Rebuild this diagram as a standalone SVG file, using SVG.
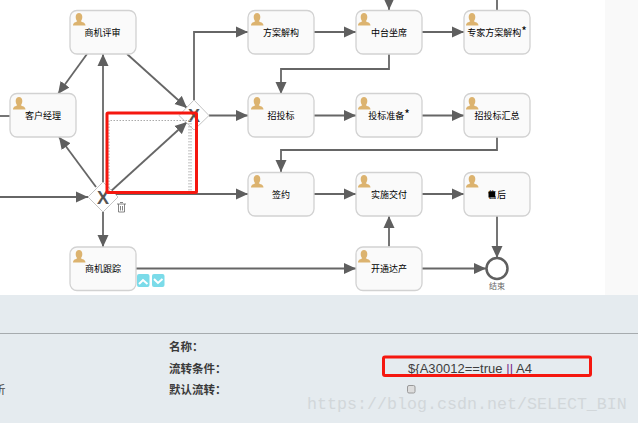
<svg xmlns="http://www.w3.org/2000/svg" width="638" height="423" viewBox="0 0 638 423">
<style>
.n{fill:#fafafa;stroke:#d2d2d2;stroke-width:1.3}
.t{font:9px "Noto Sans CJK SC","Noto Sans",sans-serif;fill:#000;text-anchor:middle}
.s{font-size:12px}
.c{fill:none;stroke:#666;stroke-width:1.8}
.a{marker-end:url(#arr)}
.g{fill:#fff;stroke:#c4c4c4;stroke-width:1}
.x{font:bold 18px "Liberation Sans",sans-serif;fill:#555;text-anchor:middle}
.l{font:bold 11.5px "Noto Sans CJK SC",sans-serif;fill:#3a3a3a}
.d{fill:none;stroke:#aaa;stroke-width:1;stroke-dasharray:1.5 1.5}
.r{fill:none;stroke:#f5170f;stroke-width:3}
</style>
<defs>
<marker id="arr" markerUnits="userSpaceOnUse" markerWidth="13" markerHeight="12" refX="12" refY="6" orient="auto"><path d="M0 0.500L12 6L0 11.500z" fill="#5f5f5f"/></marker>
<g id="u"><path d="M0 12.500C0 9.500 3 9.300 4.200 8.300C3 6.800 2.700 5.500 2.700 3.800C2.700 1.500 4.200 0 6 0C7.800 0 9.300 1.500 9.300 3.800C9.300 5.500 9 6.800 7.800 8.300C9 9.300 12.500 9.500 12.500 12.500z" fill="#dcb36f"/></g>
</defs>
<rect width="638" height="423" fill="#fff"/>
<rect x="605" width="33" height="295" fill="#f9f9f9"/>
<rect y="295" width="638" height="128" fill="#e5ebef"/>
<path d="M0 333.500H638" stroke="#a6abae" stroke-width="1"/>
<g id="connectors">
<path class="c a" d="M0 197H88"/>
<path class="c" d="M0 116H10"/>
<path class="c a" d="M103 182V54"/>
<path class="c a" d="M87 54L58 94"/>
<path class="c a" d="M96 187L59 137"/>
<path class="c a" d="M127 54L187 108"/>
<path class="c a" d="M110 192L187 122"/>
<path class="c a" d="M194 100V32H248"/>
<path class="c a" d="M209 115.500H248"/>
<path class="c a" d="M110 194H248"/>
<path class="c a" d="M314 32H356"/>
<path class="c a" d="M422 32H464"/>
<path class="c a" d="M389 -2V10"/>
<path class="c" d="M497 0V10"/>
<path class="c a" d="M389 54V69H281V94"/>
<path class="c a" d="M314 115.500H356"/>
<path class="c a" d="M422 115.500H464"/>
<path class="c a" d="M497 137V150H281V172"/>
<path class="c a" d="M314 194H356"/>
<path class="c a" d="M422 194H464"/>
<path class="c a" d="M497 216V258"/>
<path class="c a" d="M136 268.500H356"/>
<path class="c a" d="M389 246.500V216"/>
<path class="c a" d="M422 268.500H486"/>
<path class="c a" d="M103 212V247"/>
</g>
<g id="n1"><rect class="n" x="70" y="10.500" width="66" height="43.500" rx="7"/><use href="#u" x="73" y="13"/><text class="t" x="102.500" y="36">商机评审</text></g>
<g id="n2"><rect class="n" x="10" y="93.500" width="66" height="43.500" rx="7"/><use href="#u" x="13" y="97"/><text class="t" x="43" y="119">客户经理</text></g>
<g id="n3"><rect class="n" x="248" y="10.500" width="66" height="43.500" rx="7"/><use href="#u" x="251" y="13"/><text class="t" x="281" y="36">方案解构</text></g>
<g id="n4"><rect class="n" x="356" y="10.500" width="66" height="43.500" rx="7"/><use href="#u" x="358" y="13"/><text class="t" x="389" y="36">中台坐席</text></g>
<g id="n5"><rect class="n" x="464" y="10.500" width="66" height="43.500" rx="7"/><use href="#u" x="466" y="13"/><text class="t" x="497" y="36">专家方案解构<tspan class="s">*</tspan></text></g>
<g id="n6"><rect class="n" x="248" y="93.500" width="66" height="43.500" rx="7"/><use href="#u" x="251" y="97"/><text class="t" x="281" y="119">招投标</text></g>
<g id="n7"><rect class="n" x="356" y="93.500" width="66" height="43.500" rx="7"/><use href="#u" x="358" y="97"/><text class="t" x="389" y="119">投标准备<tspan class="s">*</tspan></text></g>
<g id="n8"><rect class="n" x="464" y="93.500" width="66" height="43.500" rx="7"/><use href="#u" x="466" y="97"/><text class="t" x="497" y="119">招投标汇总</text></g>
<g id="n9"><rect class="n" x="248" y="172.500" width="66" height="43.500" rx="7"/><use href="#u" x="251" y="175"/><text class="t" x="281" y="198">签约</text></g>
<g id="n10"><rect class="n" x="356" y="172.500" width="66" height="43.500" rx="7"/><use href="#u" x="358" y="175"/><text class="t" x="389" y="198">实施交付</text></g>
<g id="n11"><rect class="n" x="464" y="172.500" width="66" height="43.500" rx="7"/><use href="#u" x="466" y="175"/><rect x="488.500" y="191.500" width="6.500" height="6" fill="#000"/><text class="t" x="497" y="198">售后</text></g>
<g id="n12"><rect class="n" x="70" y="247" width="66" height="43.500" rx="7"/><use href="#u" x="73" y="250"/><text class="t" x="103" y="272">商机跟踪</text></g>
<g id="n13"><rect class="n" x="356" y="247" width="66" height="43.500" rx="7"/><use href="#u" x="358" y="250"/><text class="t" x="389" y="272">开通达产</text></g>
<g id="gw1"><path class="g" d="M103 182L118 197L103 212L88 197z"/><text class="x" x="103" y="203.500">X</text></g>
<g id="gw2"><path class="g" d="M194 100L209 115.500L194 130L179 115.500z"/><text class="x" x="194" y="122">X</text></g>
<g id="end"><circle cx="497" cy="268.500" r="10.500" fill="#fff" stroke="#5f5f5f" stroke-width="2.500"/><text x="497" y="289" style="font:8px 'Noto Sans CJK SC',sans-serif;fill:#666;text-anchor:middle">结束</text></g>
<g id="tools">
<path d="M117 204H126M118.500 204V212H124.500V204M120.500 206V210.500M122.500 206V210.500M120 202.500H123" fill="none" stroke="#666" stroke-width="0.800"/>
<rect x="137" y="274" width="12.500" height="13" rx="2" fill="#7bdbe9"/>
<path d="M139 284L143 280L147.500 284" fill="none" stroke="#fff" stroke-width="2"/>
<rect x="152" y="274" width="12.500" height="13" rx="2" fill="#7bdbe9"/>
<path d="M154 279L158 283L162.500 279" fill="none" stroke="#fff" stroke-width="2"/>
</g>
<path class="d" d="M190 120.500H109V191"/>
<path class="d" d="M189 120V191M191 120V191"/>
<rect class="r" x="107" y="113" width="89.500" height="79.500" rx="1"/>
<text class="l" x="169" y="351">名称：</text>
<text class="l" x="169" y="373">流转条件：</text>
<text class="l" x="169" y="394">默认流转：</text>
<text x="-6" y="394" style="font:11.5px 'Noto Sans CJK SC',sans-serif;fill:#444">析</text>
<text x="408" y="372.500" style="font:13px 'Liberation Sans',sans-serif;fill:#3d3d3d" textLength="124">${A30012==true <tspan fill="#7a2a8a">||</tspan> A4</text>
<rect x="383.500" y="357" width="207" height="18.500" rx="1.500" class="r"/>
<rect x="407.500" y="385.500" width="7.500" height="7.500" rx="1.500" fill="#ddd" stroke="#999" stroke-width="1"/>
<text x="307" y="409" style="font:16.67px 'Liberation Mono',monospace;fill:#d2d7da">https://blog.csdn.net/SELECT_BIN</text>
</svg>
